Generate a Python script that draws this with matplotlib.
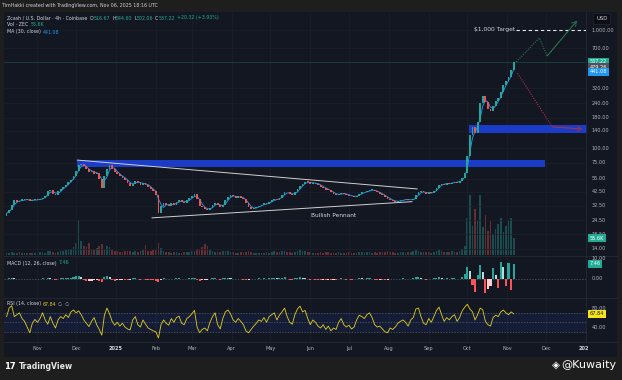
import numpy as np
import pandas as pd
import matplotlib
matplotlib.use('Agg')
import matplotlib.pyplot as plt
import matplotlib.dates as mdates
import matplotlib.transforms as mtrans
from matplotlib.patches import Rectangle

W, H = 622, 380

# ---------------- data ----------------
start_date = '2024-10-08'          # 2-day sampled candles
first_open = 26.5
closes = [28, 30, 33, 36, 35, 35.5, 37, 36, 36.8, 35.5,
          36, 37, 36, 37, 38, 39.5, 43, 44, 41, 40,
          43, 45, 47, 49, 52, 54, 58, 64, 72, 73,
          70, 66, 63, 64, 60, 62, 55, 46, 58, 66,
          72, 67, 63, 60, 58, 56, 54, 51, 48, 50,
          53, 51, 49, 51, 49, 47, 45, 43, 40, 28,
          32, 34, 33, 32.5, 34, 33, 35, 36.5, 35, 34.5,
          36, 37.5, 39, 40.5, 37, 32.5, 31.5, 30.5, 29.8, 31,
          33, 34.5, 33, 31.5, 33, 36, 38.5, 40, 39, 38,
          39, 38, 37, 34, 31.5, 30.5, 31, 31.5, 32.5, 33,
          34, 33.5, 35, 36, 37, 36.5, 38, 40, 42.5, 42,
          41, 40, 42, 45, 48, 50, 52, 51.5, 50, 51,
          50, 49, 47, 46, 44.5, 44, 42, 41, 40, 40.5,
          41.5, 41, 40, 39.5, 39, 38.5, 39.5, 41, 42, 42.5,
          43, 44, 44.5, 43, 42, 41, 40, 38.5, 37, 36.5,
          35.5, 35, 35.5, 36, 36.5, 37, 36, 36.5, 37, 40,
          42.5, 43, 42, 41, 42, 41.5, 43, 46, 49, 50,
          49, 50.5, 50, 51, 52, 51, 52.5, 56, 62, 85,
          130, 150, 135, 165, 240, 275, 245, 215, 205, 228,
          250, 265, 300, 345, 370, 400, 455, 537.22]
volumes_k = [6, 8, 10, 7, 6, 9, 5, 6, 7, 5,
             8, 6, 7, 9, 10, 8, 12, 14, 9, 8,
             10, 12, 14, 16, 18, 20, 25, 40, 114, 45,
             30, 25, 40, 20, 18, 22, 30, 35, 20, 30,
             25, 18, 14, 12, 10, 10, 12, 14, 12, 10,
             12, 10, 14, 16, 33, 14, 12, 15, 18, 40,
             22, 14, 10, 9, 8, 10, 9, 8, 7, 9,
             10, 9, 12, 14, 20, 18, 25, 36, 30, 15,
             12, 10, 9, 10, 12, 14, 12, 10, 9, 8,
             8, 9, 7, 10, 12, 10, 8, 7, 8, 7,
             8, 9, 8, 10, 12, 9, 10, 12, 14, 10,
             9, 8, 10, 12, 16, 14, 12, 10, 9, 8,
             8, 7, 9, 8, 10, 9, 8, 7, 8, 9,
             8, 7, 8, 9, 8, 7, 8, 10, 9, 8,
             9, 10, 8, 9, 8, 10, 9, 11, 12, 10,
             9, 8, 8, 9, 10, 8, 9, 10, 12, 16,
             14, 10, 9, 10, 9, 8, 9, 12, 16, 12,
             10, 9, 10, 12, 11, 10, 12, 18, 30, 120,
             196, 95, 150, 110, 196, 90, 130, 80, 110, 70,
             85, 100, 120, 75, 95, 115, 122, 55.6]
macd_hist = [0.2, 0.4, 0.5, 0.3, 0.1, 0.2, 0.1, -0.1, 0.1, 0.2,
             0.1, 0.2, 0.1, 0.2, 0.3, 0.2, 0.4, 0.3, -0.2, -0.3,
             0.2, 0.3, 0.4, 0.5, 0.6, 0.7, 1.0, 1.4, 1.5, 0.8,
             -0.6, -1.2, -1.0, -0.8, -0.6, -0.4, -0.9, -1.4, 0.8, 1.3,
             0.9, -0.5, -0.8, -0.6, -0.5, -0.4, -0.5, -0.6, -0.4, 0.3,
             0.4, -0.2, -0.3, 0.2, -0.3, -0.4, -0.5, -0.6, -0.8, -1.6,
             -0.6, 0.4, 0.2, -0.1, 0.2, 0.1, 0.3, 0.4, -0.2, -0.1,
             0.2, 0.3, 0.4, 0.5, -0.6, -0.8, -0.6, -0.4, -0.3, 0.2,
             0.4, 0.5, -0.2, -0.3, 0.3, 0.5, 0.6, 0.4, -0.2, -0.2,
             0.2, -0.1, -0.3, -0.5, -0.4, -0.2, 0.1, 0.2, 0.3, 0.2,
             0.3, 0.1, 0.3, 0.4, 0.5, 0.3, 0.5, 0.7, 0.8, 0.2,
             -0.3, -0.4, 0.4, 0.7, 0.9, 0.6, 0.5, -0.2, -0.5, -0.2,
             -0.3, -0.4, -0.5, -0.4, -0.5, -0.4, -0.6, -0.3, -0.4, 0.2,
             0.3, -0.2, -0.3, -0.1, -0.3, -0.2, 0.2, 0.4, 0.3, 0.2,
             0.3, 0.4, 0.1, -0.3, -0.4, -0.3, -0.4, -0.5, -0.4, -0.1,
             -0.2, 0.1, 0.2, 0.2, 0.3, 0.1, -0.2, 0.2, 0.3, 0.8,
             0.9, 0.3, -0.2, -0.3, 0.2, -0.1, 0.3, 0.7, 0.9, 0.4,
             0.1, 0.3, 0.2, 0.3, 0.4, -0.2, 0.2, 1.0, 2.5, 6.0,
             4.0, -3.0, -6.5, 2.0, 7.0, 3.5, -7.0, -5.0, -3.5, 5.5,
             2.0, -4.5, 8.5, 6.0, -3.5, 8.0, -5.5, 7.46]
rsi = [62, 80, 85, 62, 66, 70, 58, 52, 40, 28,
       48, 56, 50, 58, 70, 55, 46, 62, 48, 38,
       55, 62, 58, 66, 60, 72, 76, 70, 74, 66,
       55, 48, 41, 52, 60, 45, 35, 23, 65, 80,
       68, 52, 44, 50, 42, 48, 40, 36, 34, 55,
       62, 45, 40, 55, 46, 38, 35, 32, 30, 17,
       45, 55, 48, 44, 58, 50, 60, 63, 48, 45,
       58, 62, 68, 75, 40, 28, 35, 38, 32, 50,
       62, 70, 45, 36, 58, 72, 76, 68, 55, 50,
       58, 52, 45, 32, 28, 35, 42, 48, 55, 52,
       60, 50, 62, 66, 70, 55, 65, 72, 80, 62,
       50, 46, 66, 78, 84, 72, 75, 58, 45, 55,
       50, 42, 38, 45, 35, 42, 32, 38, 35, 50,
       58, 45, 40, 44, 36, 40, 55, 65, 62, 58,
       66, 70, 60, 45, 40, 42, 36, 30, 28, 38,
       35, 40, 48, 52, 55, 50, 42, 55, 60, 78,
       80, 62, 48, 45, 58, 50, 62, 75, 82, 66,
       52, 60, 55, 62, 66, 52, 60, 74, 82, 88,
       78, 72, 55, 66, 80, 76, 52, 45, 42, 60,
       65, 62, 72, 76, 70, 66, 72, 67.84]
ma_length = 3   # 30 x 4h bars ~ 3 x 2-day bars

header_line = "TimHakki created with TradingView.com, Nov 06, 2025 18:16 UTC"
symbol_title = "Zcash / U.S. Dollar \u00b7 4h \u00b7 Coinbase"
ohlc_names = ['O', 'H', 'L', 'C']
ohlc_values = ['516.67', '544.60', '502.06', '537.22']
change_text = '+20.32 (+3.93%)'
last_volume = '55.6K'
last_ma = '441.08'
last_macd = '7.46'
last_rsi = '67.84'
extra_price_label = '479.26'

month_dates = ['2024-11-01', '2024-12-01', '2025-01-01', '2025-02-01', '2025-03-01',
               '2025-04-01', '2025-05-01', '2025-06-01', '2025-07-01', '2025-08-01',
               '2025-09-01', '2025-10-01', '2025-11-01', '2025-12-01', '2026-01-01']
month_labels = ['Nov', 'Dec', '2025', 'Feb', 'Mar', 'Apr', 'May', 'Jun', 'Jul', 'Aug',
                'Sep', 'Oct', 'Nov', 'Dec', '2026']
price_ticks = [1000, 700, 320, 240, 180, 140, 100, 75, 55, 42.5, 32.5, 24.5, 18.5, 14]
macd_ticks = [10, 0]
rsi_ticks = [80, 40]

pennant_upper = (['2024-12-02', '2025-08-23'], [79, 45])
pennant_lower = (['2025-01-29', '2025-08-19'], [25.6, 35.1])
zone_low = (['2024-12-02', '2025-11-30'], [68.4, 79])
zone_high = (['2025-10-02', '2026-01-02'], [135.2, 156.7])
target_line = (['2025-11-08', '2026-01-02'], 1000)
bull_path = (['2025-11-08', '2025-11-26', '2025-12-02', '2025-12-25'], [537, 855, 602, 1190])
bear_path = (['2025-11-09', '2025-12-06', '2025-12-29'], [430, 151, 145])

# ---------------- styling ----------------
OUTER = '#1e1e1e'
BG = '#131722'
GRID = '#1c202b'
TXT = '#b2b5be'
UP = '#26a69a'
DN = '#ef5350'
BLUE_MA = '#2196f3'

fig = plt.figure(figsize=(W / 100, H / 100), dpi=100, facecolor=OUTER)


def rect(x0, y0, x1, y1):
    return [x0 / W, 1 - y1 / H, (x1 - x0) / W, (y1 - y0) / H]


def fx(x):
    return x / W


def fy(y):
    return 1 - y / H


# chart panel background
fig.patches.append(Rectangle((fx(4), fy(357)), (617 - 4) / W, (357 - 12) / H,
                             transform=fig.transFigure, fc=BG, ec='none', zorder=-5))

dates = pd.date_range(start_date, periods=len(closes), freq='2D')
dn = mdates.date2num(dates.to_pydatetime())
base = mdates.date2num(pd.Timestamp('2025-01-01').to_pydatetime())
xlim = (base - 87.0, base + 365.2)

closes_a = np.array(closes, dtype=float)
opens_a = np.concatenate([[first_open], closes_a[:-1]])
up = closes_a >= opens_a
colors = np.where(up, UP, DN)


def d2n(lst):
    return mdates.date2num(pd.to_datetime(lst).to_pydatetime())


# ---------------- volume (overlay, drawn first) ----------------
ax_v = fig.add_axes(rect(4, 13, 586, 255))
ax_v.set_xlim(*xlim)
ax_v.set_ylim(0, 242 / (17 / 55.6))
ax_v.bar(dn, volumes_k, width=1.3, color=colors, alpha=0.38, linewidth=0)
ax_v.axis('off')

# ---------------- main price pane ----------------
ax = fig.add_axes(rect(4, 13, 586, 255))
ax.set_yscale('log')
ax.set_xlim(*xlim)
ax.set_ylim(12.4, 1393)
ax.axis('off')
for d in d2n(month_dates):
    ax.axvline(d, color=GRID, lw=0.5, zorder=0)
for p in price_ticks:
    ax.axhline(p, color=GRID, lw=0.5, zorder=0)

zx = d2n(zone_low[0])
ax.fill_between(zx, zone_low[1][0], zone_low[1][1], color='#1a3cc6', lw=0, zorder=1)
zx = d2n(zone_high[0])
ax.fill_between(zx, zone_high[1][0], zone_high[1][1], color='#1a3cc6', lw=0, zorder=1)

ax.axhline(float(ohlc_values[3]), color='#22ab94', alpha=0.3, lw=0.6, zorder=1)

ma = pd.Series(closes_a).rolling(ma_length, min_periods=1).mean()
ax.plot(dn, ma, color=BLUE_MA, lw=0.65, zorder=3)
bottoms = np.minimum(opens_a, closes_a)
heights = np.maximum(np.abs(closes_a - opens_a), bottoms * 0.012)
ax.bar(dn, heights, bottom=bottoms, width=1.4, color=colors, linewidth=0, zorder=4)

ax.plot(d2n(pennant_upper[0]), pennant_upper[1], color='#d0d0d0', lw=0.7, zorder=5)
ax.plot(d2n(pennant_lower[0]), pennant_lower[1], color='#d0d0d0', lw=0.7, zorder=5)

tx = d2n(target_line[0])
ax.plot(tx, [target_line[1]] * 2, color='#e6e6e6', lw=0.8, ls=(0, (3, 2.5)), zorder=5)
ax.text(tx[0] - 1, target_line[1], '$1,000 Target', color='#d1d4dc', fontsize=4.3,
        ha='right', va='center', zorder=6)

bx = d2n(bull_path[0])
ax.plot(bx, bull_path[1], color='#2a7a4f', lw=0.8, ls=(0, (1, 1.2)), zorder=5)
ax.annotate('', xy=(bx[-1], bull_path[1][-1]), xytext=(bx[-2], bull_path[1][-2]),
            arrowprops=dict(arrowstyle='->,head_length=0.3,head_width=0.2', color='#2a7a4f', lw=0.6,
                            shrinkA=0, shrinkB=0))
rx = d2n(bear_path[0])
ax.plot(rx, bear_path[1], color='#a8334a', lw=0.8, ls=(0, (1, 1.2)), zorder=5)
ax.annotate('', xy=(rx[-1], bear_path[1][-1]), xytext=(rx[-2], bear_path[1][-2]),
            arrowprops=dict(arrowstyle='->,head_length=0.3,head_width=0.2', color='#a8334a', lw=0.6,
                            shrinkA=0, shrinkB=0))

pen_mid = d2n(['2025-06-19'])[0]
ax.text(pen_mid, 26.8, 'Bullish Pennant', color='#d1d4dc', fontsize=4.2,
        ha='center', va='center', zorder=6)

# ---------------- MACD pane ----------------
ax_m = fig.add_axes(rect(4, 256, 586, 297))
ax_m.set_xlim(*xlim)
ax_m.set_ylim(-8.96, 11.44)
ax_m.axis('off')
for d in d2n(month_dates):
    ax_m.axvline(d, color=GRID, lw=0.5, zorder=0)
hist = np.array(macd_hist)
prev = np.concatenate([[0.0], hist[:-1]])
hcol = np.where(hist >= 0, np.where(hist >= prev, '#26a69a', '#b2dfdb'),
                np.where(hist < prev, '#ff5252', '#ffcdd2'))
ax_m.bar(dn, hist, width=1.6, color=hcol, linewidth=0, zorder=2)
ax_m.axhline(0, color='#5d606b', lw=0.5, ls=(0, (2, 2)), zorder=1)

# ---------------- RSI pane ----------------
ax_r = fig.add_axes(rect(4, 298, 586, 342))
ax_r.set_xlim(*xlim)
ax_r.set_ylim(8.53, 101.2)
ax_r.axis('off')
for d in d2n(month_dates):
    ax_r.axvline(d, color=GRID, lw=0.5, zorder=0)
ax_r.axhspan(30, 70, color='#2962ff', alpha=0.09, lw=0, zorder=0)
for lvl in (70, 50, 30):
    ax_r.axhline(lvl, color='#5d606b', lw=0.5, ls=(0, (2, 2)), zorder=1)
ax_r.plot(dn, rsi, color='#e3cf1f', lw=0.6, zorder=2)

# ---------------- time axis ----------------
ax_t = fig.add_axes(rect(4, 342, 588, 357))
ax_t.set_xlim(xlim[0], xlim[1] + 2 / 1.287)
ax_t.axis('off')
tb = mtrans.blended_transform_factory(ax_t.transData, ax_t.transAxes)
for d, lab in zip(d2n(month_dates), month_labels):
    bold = lab.isdigit()
    ax_t.text(d, 0.55, lab, transform=tb, ha='center', va='center', fontsize=3.6,
              color='#d1d4dc' if bold else TXT, fontweight='bold' if bold else 'normal',
              clip_on=True)

# separators
sep = '#262a35'
for yy in (256, 297.5, 342):
    fig.add_artist(plt.Line2D([fx(4), fx(617)], [fy(yy), fy(yy)], color=sep, lw=0.6))
fig.add_artist(plt.Line2D([fx(586), fx(586)], [fy(12), fy(342)], color=sep, lw=0.6))

# ---------------- price-axis labels ----------------
bm = mtrans.blended_transform_factory(fig.transFigure, ax.transData)
for p in price_ticks:
    fig.text(fx(591.5), p, f"{p:,.2f}", transform=bm, fontsize=3.6, color=TXT, va='center', ha='left')
bmm = mtrans.blended_transform_factory(fig.transFigure, ax_m.transData)
for p in macd_ticks:
    fig.text(fx(591.5), p, f"{p:,.2f}", transform=bmm, fontsize=3.6, color=TXT, va='center', ha='left')
brr = mtrans.blended_transform_factory(fig.transFigure, ax_r.transData)
for p in rsi_ticks:
    fig.text(fx(591.5), p, f"{p:,.2f}", transform=brr, fontsize=3.6, color=TXT, va='center', ha='left')

bv = mtrans.blended_transform_factory(fig.transFigure, ax_v.transData)


def tag(trans, yv, s, fc, tc='white'):
    fig.text(fx(589.5), yv, s, transform=trans, fontsize=3.6, color=tc, va='center', ha='left',
             bbox=dict(boxstyle='square,pad=0.35', fc=fc, ec='none'), zorder=10)


tag(bm, float(ohlc_values[3]), ohlc_values[3], '#22ab94')
tag(bm, float(extra_price_label), extra_price_label, '#50535e')
tag(bm, float(last_ma), last_ma, '#2196f3')
tag(bv, float(last_volume.rstrip('K')), last_volume, '#22ab94')
tag(bmm, float(last_macd), last_macd, '#22ab94')
tag(brr, float(last_rsi), last_rsi, '#f5e31b', tc='#131722')

fig.text(fx(602), fy(19), 'USD', fontsize=3.8, color='#d1d4dc', ha='center', va='center',
         bbox=dict(boxstyle='round,pad=0.6,rounding_size=0.4', fc='#0d0f15', ec='#2a2e39', lw=0.4))

# ---------------- header / legends ----------------
renderer = fig.canvas.get_renderer()


def seq(x, y, segs, size):
    for s, c, gap in segs:
        t = fig.text(fx(x), fy(y), s, color=c, fontsize=size, ha='left', va='center')
        x += t.get_window_extent(renderer=renderer).width + gap


seq(2, 6, [(header_line, '#d1d4dc', 0)], 3.45)
segs = [(symbol_title, '#d1d4dc', 2.5)]
for n, v in zip(ohlc_names, ohlc_values):
    segs += [(n, '#d1d4dc', 0.2), (v, '#22ab94', 1.6)]
segs += [(change_text, '#22ab94', 0)]
seq(7.3, 18, segs, 3.45)
seq(7.3, 25, [('Vol \u00b7 ZEC', '#d1d4dc', 2.0), (last_volume, '#22ab94', 0)], 3.45)
seq(7.3, 32, [('MA (30, close)', '#d1d4dc', 2.0), (last_ma, '#2196f3', 0)], 3.45)
seq(6.7, 263, [('MACD (12, 26, close)', '#d1d4dc', 2.0), (last_macd, '#22ab94', 0)], 3.45)
seq(6.7, 304, [('RSI (14, close)', '#d1d4dc', 2.0), (last_rsi, '#e3cf1f', 2.0),
               ('\u2205  \u2205', '#b2b5be', 0)], 3.45)

# ---------------- footer ----------------
fig.text(fx(4.5), fy(366.5), '17', fontsize=6, fontweight='heavy', color='#ffffff', ha='left', va='center')
fig.text(fx(19), fy(366.5), 'TradingView', fontsize=5.6, fontweight='bold', color='#e6e6e6',
         ha='left', va='center')
fig.text(fx(556), fy(365), '\u25c8', fontsize=7.5, color='#ffffff', ha='center', va='center')
fig.text(fx(616), fy(365), '@Kuwaity', fontsize=8, color='#ffffff', ha='right', va='center')

fig.savefig('out.png', dpi=100, facecolor=OUTER)
